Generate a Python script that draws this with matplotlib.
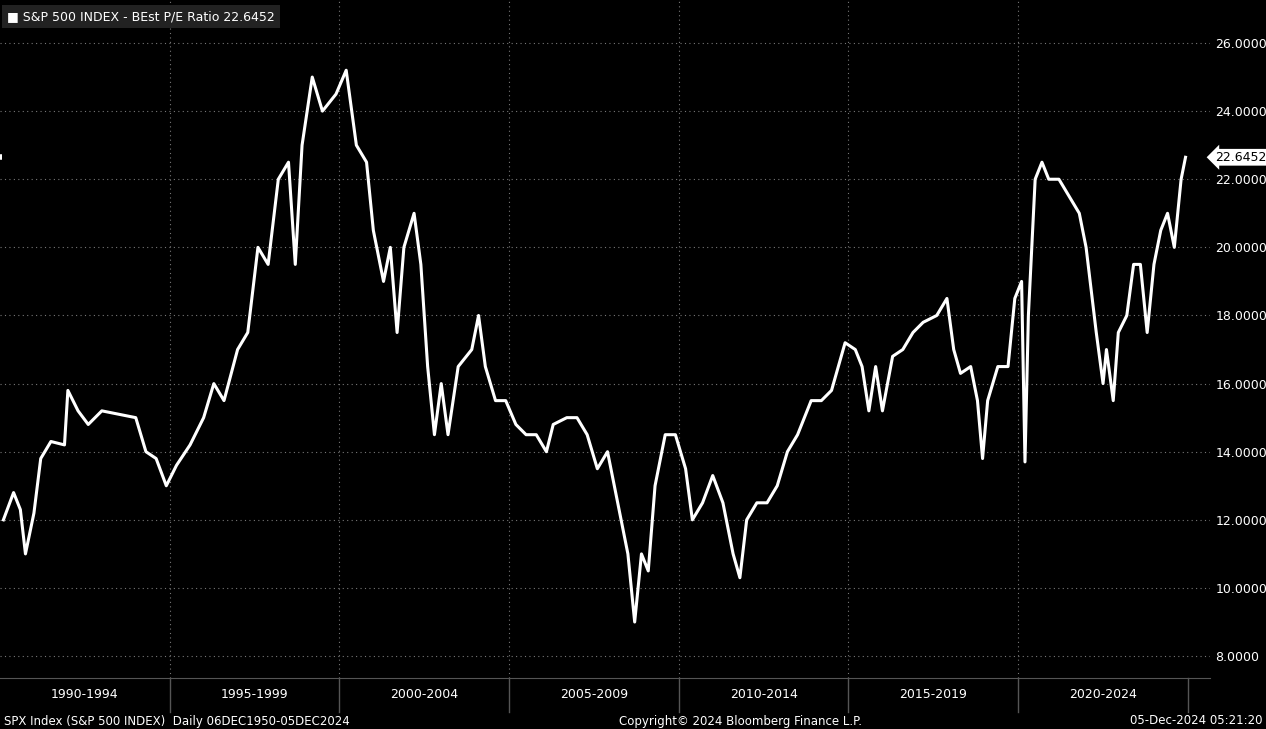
import numpy as np
from matplotlib import pyplot as plt
import matplotlib.lines as mlines

# S&P 500 BEst P/E ratio
years = [1990.1, 1990.4, 1990.6, 1990.75, 1991.0, 1991.2, 1991.5, 1991.9, 1992.0, 1992.3, 1992.6,
         1993.0, 1993.5, 1994.0, 1994.3, 1994.6, 1994.9, 1995.2, 1995.6, 1996.0, 1996.3, 1996.6,
         1997.0, 1997.3, 1997.6, 1997.9, 1998.2, 1998.5, 1998.7, 1998.9, 1999.2, 1999.5, 1999.9,
         2000.2, 2000.5, 2000.8, 2001.0, 2001.3, 2001.5, 2001.7, 2001.9, 2002.2, 2002.4, 2002.6,
         2002.8, 2003.0, 2003.2, 2003.5, 2003.9, 2004.1, 2004.3, 2004.6, 2004.9, 2005.2, 2005.5,
         2005.8, 2006.1, 2006.3, 2006.7, 2007.0, 2007.3, 2007.6, 2007.9, 2008.2, 2008.5, 2008.7,
         2008.9, 2009.1, 2009.3, 2009.6, 2009.9, 2010.2, 2010.4, 2010.7, 2011.0, 2011.3, 2011.6,
         2011.8, 2012.0, 2012.3, 2012.6, 2012.9, 2013.2, 2013.5, 2013.9, 2014.2, 2014.5, 2014.9,
         2015.2, 2015.4, 2015.6, 2015.8, 2016.0, 2016.3, 2016.6, 2016.9, 2017.2, 2017.6, 2017.9,
         2018.1, 2018.3, 2018.6, 2018.8, 2018.95, 2019.1, 2019.4, 2019.7, 2019.9, 2020.1, 2020.2,
         2020.3, 2020.5, 2020.7, 2020.9, 2021.2, 2021.5, 2021.8, 2022.0, 2022.3, 2022.5, 2022.6,
         2022.8, 2022.95, 2023.2, 2023.4, 2023.6, 2023.8, 2024.0, 2024.2, 2024.4, 2024.6, 2024.8,
         2024.93]
pe = [12.0, 12.8, 12.3, 11.0, 12.2, 13.8, 14.3, 14.2, 15.8, 15.2, 14.8,
      15.2, 15.1, 15.0, 14.0, 13.8, 13.0, 13.6, 14.2, 15.0, 16.0, 15.5,
      17.0, 17.5, 20.0, 19.5, 22.0, 22.5, 19.5, 23.0, 25.0, 24.0, 24.5,
      25.2, 23.0, 22.5, 20.5, 19.0, 20.0, 17.5, 20.0, 21.0, 19.5, 16.5,
      14.5, 16.0, 14.5, 16.5, 17.0, 18.0, 16.5, 15.5, 15.5, 14.8, 14.5,
      14.5, 14.0, 14.8, 15.0, 15.0, 14.5, 13.5, 14.0, 12.5, 11.0, 9.0,
      11.0, 10.5, 13.0, 14.5, 14.5, 13.5, 12.0, 12.5, 13.3, 12.5, 11.0,
      10.3, 12.0, 12.5, 12.5, 13.0, 14.0, 14.5, 15.5, 15.5, 15.8, 17.2,
      17.0, 16.5, 15.2, 16.5, 15.2, 16.8, 17.0, 17.5, 17.8, 18.0, 18.5,
      17.0, 16.3, 16.5, 15.5, 13.8, 15.5, 16.5, 16.5, 18.5, 19.0, 13.7,
      18.0, 22.0, 22.5, 22.0, 22.0, 21.5, 21.0, 20.0, 17.5, 16.0, 17.0,
      15.5, 17.5, 18.0, 19.5, 19.5, 17.5, 19.5, 20.5, 21.0, 20.0, 22.0,
      22.6452]
period_labels = ['1990-1994', '1995-1999', '2000-2004', '2005-2009', '2010-2014', '2015-2019', '2020-2024']

W, H = 1266, 729
fig = plt.figure(figsize=(W / 100, H / 100), dpi=100, facecolor='black')
ax = fig.add_axes([0, 51 / H, 1210 / W, 678 / H], facecolor='black')
ax.plot(years, pe, color='white', lw=2.2)
ax.set_xlim(1990.0, 1990 + 1210 / 33.94)
ax.set_ylim(26 - 635 / 34.06, 26 + 43 / 34.06)

ax.yaxis.tick_right()
ax.set_yticks(np.arange(8, 27, 2))
ax.set_yticklabels(['%.4f' % v for v in np.arange(8, 27, 2)], color='white', fontsize=9)
ax.tick_params(axis='y', length=0, pad=4)
ax.set_xticks(np.arange(1995, 2025, 5))
ax.set_xticklabels([])
ax.tick_params(axis='x', length=0)
ax.grid(color='#777777', ls=(0, (1, 3)), lw=0.8)
for s in ax.spines.values():
    s.set_visible(False)
ax.spines['bottom'].set_visible(True)
ax.spines['bottom'].set_color('#555555')

# period labels and separators in the band under the plot
band_top, band_bot = 51 / H, 17 / H
for i, lab in enumerate(period_labels):
    x0 = 1990 + 5 * i
    fx = ax.transData.transform((x0 + 2.5, 0))[0] / W
    fig.text(fx, (band_top + band_bot) / 2, lab, color='white', fontsize=9, ha='center', va='center')
    sx = ax.transData.transform((x0 + 5, 0))[0] / W
    fig.add_artist(mlines.Line2D([sx, sx], [band_bot, band_top], color='#555555', lw=1))

# legend
ax.text(0.006, 0.975, '\u25A0 S&P 500 INDEX - BEst P/E Ratio 22.6452', transform=ax.transAxes,
        color='white', fontsize=9, va='center',
        bbox=dict(boxstyle='square,pad=0.4', fc='#222222', ec='none'))
# last value tag
ax.annotate('22.6452', xy=(1.0, 22.6452), xycoords=('axes fraction', 'data'),
            xytext=(4, 0), textcoords='offset points', color='black', fontsize=9, va='center',
            bbox=dict(boxstyle='larrow,pad=0.15', fc='white', ec='none'), annotation_clip=False)
ax.plot([1990.0, 1990.05], [22.65, 22.65], color='white', lw=4, solid_capstyle='butt')

# footer
fig.text(0.003, 8 / H, 'SPX Index (S&P 500 INDEX)  Daily 06DEC1950-05DEC2024', color='white', fontsize=8.5, va='center')
fig.text(0.585, 8 / H, 'Copyright\u00a9 2024 Bloomberg Finance L.P.', color='white', fontsize=8.5, va='center', ha='center')
fig.text(0.997, 8 / H, '05-Dec-2024 05:21:20', color='white', fontsize=8.5, va='center', ha='right')

fig.savefig('out.png', dpi=100, facecolor='black')
